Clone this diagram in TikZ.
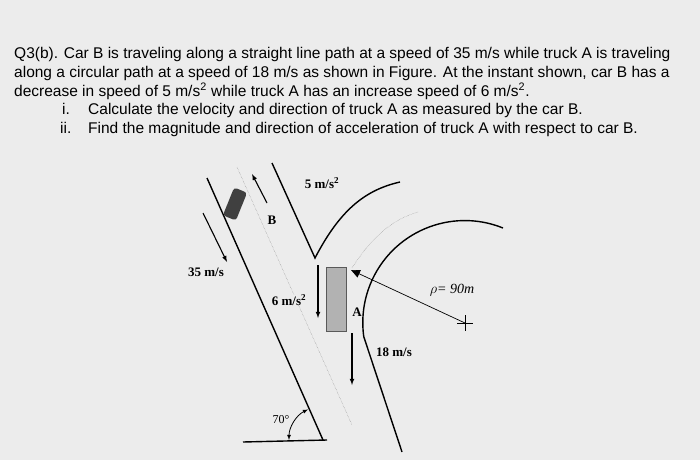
\documentclass[tikz,border=0pt]{standalone}
\usepackage{fontspec}
\usetikzlibrary{calc,arrows.meta}
\setmainfont{Liberation Serif}
\newfontfamily\qfont{Liberation Sans}
\begin{document}
\begin{tikzpicture}[x=1pt,y=-1pt,
  q/.style={anchor=base west,inner sep=0,font=\qfont\fontsize{15.5}{17}\selectfont},
  lab/.style={inner sep=0,font=\bfseries\fontsize{13}{15}\selectfont},
  road/.style={line width=1.4pt},
  arr/.style={line width=1.1pt,-latex}]
\fill[gray!15] (0,0) rectangle (700,460);
\useasboundingbox (0,0) rectangle (700,460);
\node[q] (l1) at (14,58) {Q3(b). Car B is traveling along a straight line path at a speed of 35 m/s while truck A is traveling};
\node[q] (l2) at (14,77) {along a circular path at a speed of 18 m/s as shown in Figure. At the instant shown, car B has a};
\node[q] (l3) at (14,96) {decrease in speed of 5 m/s\textsuperscript{2} while truck A has an increase speed of 6 m/s\textsuperscript{2}.};
\node[q] (l4) at (62,114) {i.};
\node[q] (l4t) at (88,114) {Calculate the velocity and direction of truck A as measured by the car B.};
\node[q] (l5) at (60,133) {ii.};
\node[q] (l5t) at (88,133) {Find the magnitude and direction of acceleration of truck A with respect to car B.};
% roads
\coordinate (r1a) at (207,178); \coordinate (r1b) at (323,440);
\draw[road] (r1a) -- (r1b);
\draw[road] (243,442) -- (327,440);
\draw[line width=0.8pt,<->,>=latex] ($(r1b)+(-34,0)$) arc[start angle=-180,end angle=-116,radius=34];
\node[font=\fontsize{12}{14}\selectfont,inner sep=0] (ang) at (281,420) {70°};
\draw[road] (272,163) -- (315,258) .. controls (340,210) and (365,190) .. (400,182);
\draw[densely dotted,gray] (237,167) -- (352,425);
\draw[densely dotted,gray] (352,268) .. controls (370,240) and (390,220) .. (418,212);
\coordinate (cen) at (465,323);
\draw[road] (503,228) arc[start angle=-68,end angle=-188,radius=102] -- (402,452);
\draw[line width=0.6pt] ($(cen)+(-8,0)$) -- ($(cen)+(8,0)$) ($(cen)+(0,-8)$) -- ($(cen)+(0,8)$);
\coordinate (tip) at (351,270);
\draw[line width=0.7pt,-{Triangle[length=9pt,width=8pt]}] (cen) -- (tip);
\node[font=\itshape\fontsize{14}{16}\selectfont,inner sep=0] (rho) at (452,290) {$\rho$= 90m};
% vehicles
\node[draw=gray!70!black,fill=gray!60,minimum width=20pt,minimum height=64pt,inner sep=0] (A) at (336,299) {};
\node[fill=black!75,rounded corners=3pt,minimum width=14pt,minimum height=30pt,rotate=-22,inner sep=0] (Bcar) at (235,204) {};
% arrows and labels
\draw[arr] (267,203) -- (252,174);
\node[lab] (B) at (272,220) {B};
\draw[arr] (203,213) -- (227,262);
\node[lab] (v35) at (206,272) {35 m/s};
\node[lab] (a5) at (322,183) {5 m/s\textsuperscript{2}};
\draw[arr] (318,265) -- (318,318);
\node[lab,fill=gray!15] (a6) at (289,300) {6 m/s\textsuperscript{2}};
\node[lab] (Al) at (357,312) {A};
\draw[arr] (352,333) -- (352,385);
\node[lab] (v18) at (394,352) {18 m/s};
\end{tikzpicture}
\end{document}
